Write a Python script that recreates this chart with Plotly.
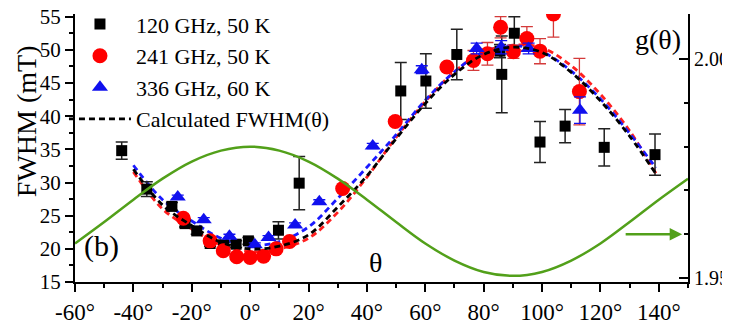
import plotly.graph_objects as go

# %%
# 120 GHz, 50 K (black squares)
ang_120 = [-44.0, -35.4, -26.8, -22.3, -18.3, -13.7, -9.1, -4.8, -0.6, 9.7, 16.8,
           51.6, 60.2, 70.8, 85.6, 86.2, 90.5, 99.3, 107.9, 121.3, 138.7]
fwhm_120 = [34.8, 29.0, 26.4, 23.8, 22.7, 20.8, 20.6, 20.7, 21.2, 22.8, 29.9,
            43.8, 45.3, 49.3, 49.8, 46.3, 52.5, 36.1, 38.5, 35.3, 34.2]
err_120 = [1.3, 1.1, 0.6, 0.5, 0.5, 0.4, 0.4, 0.5, 0.5, 1.3, 4.0,
           4.3, 4.1, 3.8, 1.0, 5.8, 2.5, 3.1, 2.5, 2.8, 3.1]

# 241 GHz, 50 K (red circles)
ang_241 = [-22.9, -13.7, -9.2, -4.6, 0.0, 4.6, 8.9, 13.5, 31.7, 49.7, 67.4,
           76.5, 81.3, 85.8, 90.2, 94.8, 99.3, 103.9, 112.8]
fwhm_241 = [24.6, 21.2, 19.7, 18.8, 18.7, 18.9, 20.0, 21.1, 29.1, 39.2, 47.4,
            48.4, 49.4, 53.4, 49.7, 51.7, 49.8, 55.4, 43.7]
err_241 = [0.3, 0.3, 0.3, 0.3, 0.3, 0.3, 0.3, 0.3, 0.4, 0.5, 0.6,
           1.5, 1.7, 1.6, 1.0, 1.8, 1.9, 3.5, 5.0]

# 336 GHz, 60 K (blue triangles)
ang_336 = [-24.8, -15.9, -7.1, 1.6, 6.3, 15.4, 23.7, 42.0, 58.8, 77.6, 86.0, 95.4, 113.0]
fwhm_336 = [27.8, 24.4, 21.9, 20.6, 21.7, 23.6, 27.1, 35.5, 47.0, 50.2, 50.4, 50.2, 40.9]
err_336 = [0.3, 0.3, 0.3, 0.3, 0.3, 0.3, 0.3, 0.4, 0.6, 0.8, 1.0, 0.8, 2.0]

# calculated FWHM(theta) curves
ang_calc = [-40, -30, -20, -10, 0, 10, 20, 30, 40, 50, 60, 70, 80, 90, 100, 110, 120, 130, 139]
calc_black = [32.0, 26.6, 23.5, 21.0, 20.0, 20.4, 22.1, 26.3, 31.0, 36.6, 41.9, 46.3,
              49.3, 50.4, 49.6, 46.6, 42.3, 37.0, 31.3]
calc_blue = [32.6, 27.4, 24.2, 21.6, 20.5, 21.1, 23.3, 27.6, 32.3, 37.2, 42.4, 46.7,
             49.7, 50.6, 49.7, 46.8, 42.6, 37.4, 32.2]
calc_red = [31.6, 26.0, 23.0, 20.6, 19.6, 20.0, 21.6, 25.5, 30.8, 36.8, 42.2, 46.7,
            49.7, 50.7, 50.3, 47.6, 43.3, 37.8, 31.4]

# g(theta), right axis
ang_g = [-60, -50, -40, -30, -20, -10, 0, 10, 20, 30, 40, 50, 60, 70, 80, 90,
         100, 110, 120, 130, 140, 150]
g_val = [1.9579, 1.9628, 1.9679, 1.9727, 1.9766, 1.9791, 1.9800, 1.9791, 1.9766, 1.9727,
         1.9679, 1.9628, 1.9579, 1.9540, 1.9514, 1.9505, 1.9514, 1.9540, 1.9579, 1.9628,
         1.9679, 1.9727]

x_ticks = [-60, -40, -20, 0, 20, 40, 60, 80, 100, 120, 140]
x_labels = [f"{v}°" for v in x_ticks]

FONT = "Liberation Serif"
GREEN = "#52a01a"

# %%
fig = go.Figure()

fig.add_trace(go.Scatter(x=ang_g, y=g_val, yaxis="y2", mode="lines",
                         line=dict(color=GREEN, width=2.5, shape="spline"),
                         showlegend=False))

fig.add_trace(go.Scatter(x=ang_calc, y=calc_red, mode="lines",
                         line=dict(color="#ff2020", width=2.8, dash="6px,4px", shape="spline"),
                         showlegend=False))
fig.add_trace(go.Scatter(x=ang_calc, y=calc_blue, mode="lines",
                         line=dict(color="#1a1aff", width=2.8, dash="6px,4px", shape="spline"),
                         showlegend=False))

fig.add_trace(go.Scatter(x=ang_120, y=fwhm_120, mode="markers", name="120 GHz, 50 K",
                         marker=dict(symbol="square", size=11, color="black"),
                         error_y=dict(type="data", array=err_120, color="#222222",
                                      thickness=1.5, width=6)))
fig.add_trace(go.Scatter(x=ang_241, y=fwhm_241, mode="markers", name="241 GHz, 50 K",
                         marker=dict(symbol="circle", size=15, color="#ff0000"),
                         error_y=dict(type="data", array=err_241, color="#d43a3a",
                                      thickness=1.3, width=6)))
fig.add_trace(go.Scatter(x=ang_336, y=fwhm_336, mode="markers", name="336 GHz, 60 K",
                         marker=dict(symbol="triangle-up", size=14, color="#1010ee"),
                         error_y=dict(type="data", array=err_336, color="#1010ee",
                                      thickness=1.3, width=6)))

fig.add_trace(go.Scatter(x=ang_calc, y=calc_black, mode="lines", name="Calculated FWHM(θ)",
                         line=dict(color="black", width=2.8, dash="6px,4px", shape="spline")))

# the page body adds an 8px offset, so the figure is 8px smaller and left/top margins shifted
fig.update_layout(
    width=722, height=321,
    margin=dict(l=67, r=42, t=6, b=47, autoexpand=False),
    paper_bgcolor="white", plot_bgcolor="white",
    font=dict(family=FONT, size=21, color="black"),
    showlegend=True,
    legend=dict(x=-0.018, y=1.04, xanchor="left", yanchor="top", bgcolor="rgba(0,0,0,0)",
                font=dict(family=FONT, size=22), tracegroupgap=0, itemwidth=62),
    xaxis=dict(range=[-60, 150], tickvals=x_ticks, ticktext=x_labels, automargin=False,
               ticks="outside", ticklen=8, tickwidth=2, tickcolor="black",
               minor=dict(dtick=10, tick0=-60, ticks="outside", ticklen=4, tickwidth=2,
                          tickcolor="black"),
               showline=True, linecolor="black", linewidth=2, showgrid=False,
               zeroline=False, tickfont=dict(size=23)),
    yaxis=dict(range=[15, 55.4], dtick=5, tick0=15, ticks="outside", ticklen=8, tickwidth=2,
               tickcolor="black", automargin=False, ticklabeloverflow="allow",
               minor=dict(dtick=2.5, tick0=15, ticks="outside", ticklen=4, tickwidth=2,
                          tickcolor="black"),
               showline=True, linecolor="black", linewidth=2, showgrid=False,
               zeroline=False, tickfont=dict(size=21)),
    yaxis2=dict(overlaying="y", side="right", range=[1.9491, 2.0103], automargin=False,
                tickvals=[1.95, 2.00], ticktext=["1.95", "2.00"], ticklabeloverflow="allow",
                ticks="inside", ticklen=9, tickwidth=2, tickcolor="black",
                minor=dict(tickvals=[1.96, 1.97, 1.98, 1.99], ticks="inside", ticklen=4,
                           tickwidth=2, tickcolor="black"),
                showline=True, linecolor="black", linewidth=2, showgrid=False,
                zeroline=False, tickfont=dict(size=20)),
)

fig.add_annotation(text="FWHM (mT)", xref="paper", yref="paper", x=-0.08, y=0.6,
                   xanchor="center", yanchor="middle",
                   textangle=-90, showarrow=False, font=dict(size=28))
fig.add_annotation(text="(b)", x=-51, y=20.4, showarrow=False, font=dict(size=30))
fig.add_annotation(text="θ", x=43, y=18.0, showarrow=False, font=dict(size=28))
fig.add_annotation(text="g(θ)", xref="paper", yref="paper", x=0.951, y=0.903,
                   xanchor="center", yanchor="middle", showarrow=False, font=dict(size=28))
fig.add_annotation(x=148, y=1.96, yref="y2", ax=-58, ay=0, text="", showarrow=True,
                   arrowhead=2, arrowsize=1, arrowwidth=2.5, arrowcolor=GREEN)

fig.write_html("out.html")
